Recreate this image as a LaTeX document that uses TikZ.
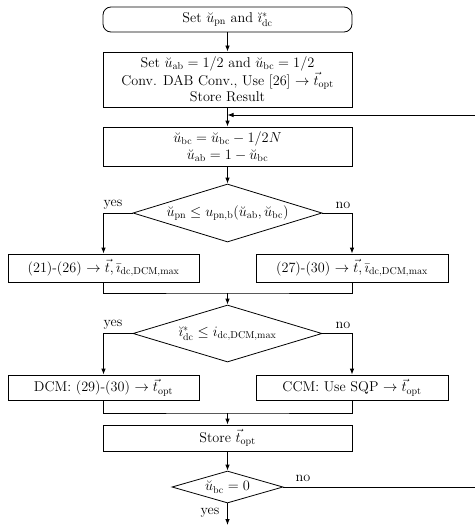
\documentclass[tikz,border=0pt]{standalone}
\usetikzlibrary{shapes.geometric,arrows.meta}
\begin{document}
\begin{tikzpicture}[x=1pt,y=-1pt,
  font=\fontsize{14.2}{16.5}\selectfont,
  every path/.style={line width=0.8pt},
  box/.style={draw,line width=0.8pt,rectangle,inner sep=0pt,align=center},
  dia/.style={draw,line width=0.8pt,diamond,inner sep=0pt},
  arr/.style={-{Latex[length=6pt,width=4.5pt]}},
  lbl/.style={inner sep=0pt}]
\useasboundingbox (0,0) rectangle (474,527);
\node[box,rounded corners=8pt,minimum width=249pt,minimum height=25pt] (b1) at (227.5,19.5)
  {Set $\breve{u}_{\mathrm{pn}}$ and $\breve{\imath}^*_{\mathrm{dc}}$};
\node[box,minimum width=249pt,minimum height=55pt] (b2) at (227.5,79.5)
  {Set $\breve{u}_{\mathrm{ab}}=1/2$ and $\breve{u}_{\mathrm{bc}}=1/2$\\
   Conv. DAB Conv., Use [26] $\rightarrow\vec{t}_{\mathrm{opt}}$\\
   Store Result};
\node[box,minimum width=249pt,minimum height=39pt] (b3) at (227.5,146.5)
  {$\breve{u}_{\mathrm{bc}}=\breve{u}_{\mathrm{bc}}-1/2N$\\
   $\breve{u}_{\mathrm{ab}}=1-\breve{u}_{\mathrm{bc}}$};
\node[dia,aspect=3.26,minimum width=189pt,minimum height=58pt] (d1) at (227.5,213)
  {$\breve{u}_{\mathrm{pn}}\leq u_{\mathrm{pn,b}}(\breve{u}_{\mathrm{ab}},\breve{u}_{\mathrm{bc}})$};
\node[box,minimum width=191pt,minimum height=28pt] (b4) at (103.5,268)
  {(21)-(26) $\rightarrow\vec{t},\bar{\imath}_{\mathrm{dc,DCM,max}}$};
\node[box,minimum width=192pt,minimum height=28pt] (b5) at (352,268)
  {(27)-(30) $\rightarrow\vec{t},\bar{\imath}_{\mathrm{dc,DCM,max}}$};
\node[dia,aspect=3.3,minimum width=189pt,minimum height=57pt] (d2) at (227.5,333.5)
  {$\breve{\imath}^*_{\mathrm{dc}}\leq i_{\mathrm{dc,DCM,max}}$};
\node[box,minimum width=191pt,minimum height=25pt] (b6) at (103.5,387.5)
  {DCM: (29)-(30) $\rightarrow\vec{t}_{\mathrm{opt}}$};
\node[box,minimum width=192pt,minimum height=25pt] (b7) at (352,387.5)
  {CCM: Use SQP $\rightarrow\vec{t}_{\mathrm{opt}}$};
\node[box,minimum width=249pt,minimum height=26pt] (b8) at (227.5,438)
  {Store $\vec{t}_{\mathrm{opt}}$};
\node[dia,aspect=3.47,minimum width=111pt,minimum height=32pt] (d3) at (227.5,487)
  {$\breve{u}_{\mathrm{bc}}=0$};
% labels
\node[lbl] (y1) at (113,205) {yes};
\node[lbl] (n1) at (343,205) {no};
\node[lbl] (y2) at (113,325) {yes};
\node[lbl] (n2) at (343,325) {no};
\node[lbl] (n3) at (303,478) {no};
\node[lbl] (y3) at (210,513) {yes};
% coordinates
\coordinate (fb) at (227.5,115);
\coordinate (fbR) at (490,115);
\coordinate (loopR) at (490,487);
\coordinate (m1) at (227.5,293);
\coordinate (m2) at (227.5,413);
\coordinate (end) at (227.5,525);
% connectors
\draw[arr] (b1.south) -- (b2.north);
\draw[arr] (b2.south) -- (b3.north);
\draw[arr] (d3.east) -- (loopR) -- (fbR) -- (fb);
\draw[arr] (b3.south) -- (d1.north);
\draw[arr] (d1.west) -| (b4.north);
\draw[arr] (d1.east) -| (b5.north);
\draw (b4.south) |- (m1) -| (b5.south);
\draw[arr] (m1) -- (d2.north);
\draw[arr] (d2.west) -| (b6.north);
\draw[arr] (d2.east) -| (b7.north);
\draw (b6.south) |- (m2) -| (b7.south);
\draw[arr] (m2) -- (b8.north);
\draw[arr] (b8.south) -- (d3.north);
\draw[arr] (d3.south) -- (end);
\end{tikzpicture}
\end{document}
